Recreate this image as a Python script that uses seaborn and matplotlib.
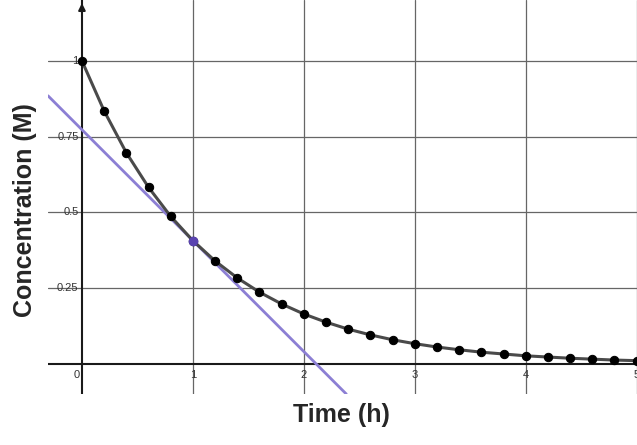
import matplotlib
matplotlib.use("Agg")
import matplotlib.pyplot as plt
import seaborn as sns

time_h = [0.0, 0.2, 0.4, 0.6, 0.8, 1.0, 1.2, 1.4, 1.6, 1.8, 2.0, 2.2, 2.4,
          2.6, 2.8, 3.0, 3.2, 3.4, 3.6, 3.8, 4.0, 4.2, 4.4, 4.6, 4.8, 5.0]
conc_m = [1.0, 0.835, 0.697, 0.583, 0.487, 0.407, 0.340, 0.284, 0.237, 0.198,
          0.165, 0.138, 0.115, 0.096, 0.080, 0.067, 0.056, 0.047, 0.039, 0.033,
          0.027, 0.023, 0.019, 0.016, 0.013, 0.011]

# Tangente bei t = 1 h
tangent_t = 1.0
tangent_c = 0.407
tangent_slope = -0.366

x_ticks = [0, 1, 2, 3, 4, 5]
x_labels = ["0", "1", "2", "3", "4", "5"]
y_ticks = [0.25, 0.5, 0.75, 1.0]
y_labels = ["0.25", "0.5", "0.75", "1"]

sns.set_style("white")
plt.rcParams["font.family"] = ["Liberation Sans", "DejaVu Sans"]

fig = plt.figure(figsize=(6.37, 4.45), dpi=100)
ax = fig.add_axes([48 / 637, 51 / 445, 1 - 48 / 637, 1 - 51 / 445])
ax.set_xlim(-0.306, 5.003)
ax.set_ylim(-0.099, 1.201)

# Gitter
for xt in x_ticks[1:]:
    ax.axvline(xt, color="#666666", lw=0.9, zorder=1)
for yt in y_ticks:
    ax.axhline(yt, color="#666666", lw=0.9, zorder=1)
ax.axvline(0, color="#1a1a1a", lw=1.5, zorder=2)
ax.axhline(0, color="#1a1a1a", lw=1.5, zorder=2)
ax.annotate("", xy=(0, 1.2), xytext=(0, 1.15),
            arrowprops=dict(arrowstyle="-|>", color="#1a1a1a", lw=1.5,
                            mutation_scale=10), zorder=3)

# Tangente
ax.axline((tangent_t, tangent_c), slope=tangent_slope, color="#8c7fd4",
          lw=2, zorder=3)

# Kurve
sns.lineplot(x=time_h, y=conc_m, ax=ax, color="#4a4a4a", lw=2.2,
             marker="o", markersize=6, markerfacecolor="black",
             markeredgecolor="black", zorder=4)
ax.plot([tangent_t], [tangent_c], "o", color="#5a44b0", markersize=6,
        zorder=5)

for s in ax.spines.values():
    s.set_visible(False)
ax.set_xticks([])
ax.set_yticks([])

# Beschriftung der Achsen
for xt, lab in zip(x_ticks, x_labels):
    ax.text(xt if xt > 0 else -0.05, -0.02, lab, ha="center", va="top",
            fontsize=8, color="#333333")
for yt, lab in zip(y_ticks, y_labels):
    ax.text(-0.03, yt, lab, ha="right", va="center", fontsize=8,
            color="#333333", zorder=2)

fig.text(341 / 637, 1 - 415 / 445, "Time (h)", ha="center", va="center",
         fontsize=18, fontweight="bold")
fig.text(25 / 637, 1 - 210 / 445, "Concentration (M)", ha="center",
         va="center", rotation=90, fontsize=18, fontweight="bold")

fig.savefig("out.png", dpi=100)
